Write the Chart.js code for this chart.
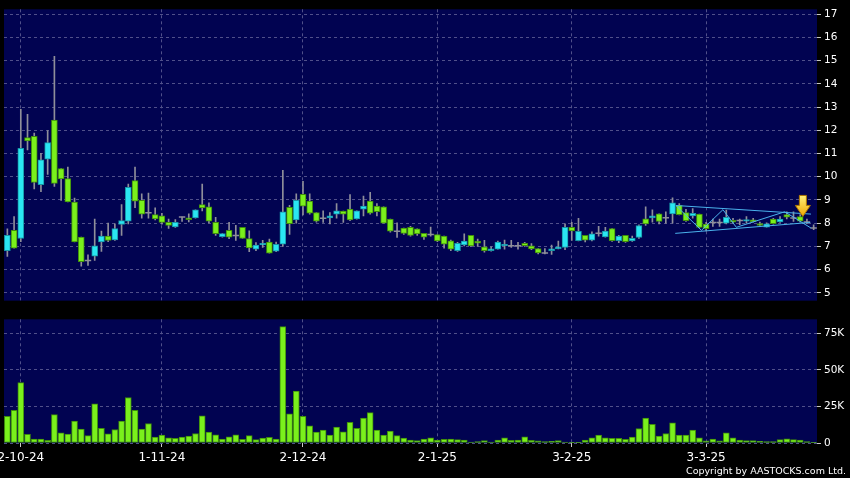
<!DOCTYPE html>
<html>
<head>
<meta charset="utf-8">
<script src="https://cdn.jsdelivr.net/npm/chart.js@4.4.1/dist/chart.umd.min.js"></script>
<style>
  html, body { margin: 0; padding: 0; background: #000; }
  #wrap { position: relative; width: 850px; height: 478px; overflow: hidden; background: #000; }
  #priceChart { position: absolute; left: 0; top: 0; }
  #volChart { position: absolute; left: 0; top: 310px; }
  #copy { position: absolute; right: 4px; top: 465px; color: #fff; font: 9.5px "DejaVu Sans", sans-serif; white-space: nowrap; }
</style>
</head>
<body>
<div id="wrap">
  <canvas id="priceChart" width="850" height="310"></canvas>
  <canvas id="volChart" width="850" height="168"></canvas>
  <div id="copy">Copyright by AASTOCKS.com Ltd.</div>
</div>
<script>
// daily OHLC, oldest first
const open = [
  6.81, 7.69, 7.34, 11.68, 11.74, 9.66, 10.76, 12.44, 10.35, 9.92,
  8.91, 7.40, 6.39, 6.58, 7.19, 7.44, 7.28, 7.94, 8.09, 9.83,
  8.98, 8.45, 8.37, 8.32, 8.03, 7.84, 8.26, 8.23, 8.23, 8.80,
  8.70, 8.04, 7.42, 7.69, 7.47, 7.82, 7.34, 6.88, 7.07, 7.19,
  6.79, 7.09, 8.68, 8.14, 9.24, 8.95, 8.45, 8.21, 8.22, 8.39,
  8.52, 8.61, 8.18, 8.60, 8.95, 8.74, 8.70, 8.18, 7.65, 7.79,
  7.82, 7.75, 7.56, 7.51, 7.51, 7.44, 7.24, 6.81, 7.06, 7.48,
  7.23, 6.98, 6.82, 6.88, 7.03, 7.03, 7.03, 7.13, 7.02, 6.91,
  6.71, 6.82, 6.89, 6.95, 7.82, 7.24, 7.48, 7.27, 7.56, 7.41,
  7.77, 7.24, 7.47, 7.23, 7.38, 8.19, 8.23, 8.40, 8.23, 8.40,
  8.77, 8.45, 8.31, 8.39, 7.96, 8.03, 8.03, 8.00, 8.12, 8.11,
  8.08, 8.14, 7.98, 7.83, 8.18, 8.05, 8.37, 8.22, 8.28, 8.05,
  7.79
];
const high = [
  7.75, 8.28, 12.90, 12.69, 11.88, 11.01, 11.99, 15.18, 10.35, 10.42,
  9.08, 7.40, 6.64, 8.17, 7.66, 8.00, 7.97, 8.80, 9.68, 10.42,
  9.26, 9.30, 8.66, 8.42, 8.18, 8.15, 8.26, 8.40, 8.57, 9.68,
  8.88, 8.25, 7.55, 8.04, 7.91, 7.82, 7.67, 7.16, 7.26, 7.31,
  7.19, 10.27, 8.77, 9.26, 9.80, 9.26, 8.45, 8.53, 8.45, 8.84,
  8.52, 9.23, 8.53, 9.17, 9.33, 8.84, 8.70, 8.18, 8.01, 7.79,
  7.86, 7.75, 7.56, 7.83, 7.51, 7.44, 7.27, 7.17, 7.54, 7.48,
  7.31, 7.26, 6.98, 7.23, 7.27, 7.26, 7.17, 7.17, 7.12, 6.91,
  6.91, 7.06, 7.23, 7.97, 8.03, 8.21, 7.48, 7.63, 7.86, 7.82,
  7.77, 7.48, 7.47, 7.44, 7.93, 8.70, 8.57, 8.40, 8.49, 9.09,
  8.84, 8.59, 8.63, 8.39, 8.04, 8.18, 8.18, 8.56, 8.21, 8.18,
  8.28, 8.21, 8.05, 8.01, 8.21, 8.28, 8.49, 8.49, 8.37, 8.18,
  7.93
];
const low = [
  6.57, 6.92, 7.20, 11.15, 9.47, 9.36, 10.10, 9.58, 8.98, 8.91,
  7.19, 6.15, 6.18, 6.39, 6.78, 7.20, 7.26, 7.47, 7.97, 8.67,
  8.21, 8.21, 8.14, 7.96, 7.77, 7.82, 8.07, 8.05, 8.21, 8.53,
  8.01, 7.47, 7.40, 7.33, 7.26, 7.34, 6.77, 6.82, 6.95, 6.71,
  6.77, 7.00, 7.51, 8.00, 8.35, 8.39, 8.04, 8.03, 7.97, 8.21,
  8.03, 8.11, 8.17, 8.31, 8.39, 8.31, 8.00, 7.61, 7.38, 7.51,
  7.44, 7.47, 7.30, 7.44, 7.20, 6.92, 6.81, 6.78, 7.02, 6.99,
  7.00, 6.75, 6.79, 6.88, 6.88, 6.95, 6.88, 7.00, 6.86, 6.67,
  6.67, 6.65, 6.89, 6.86, 7.26, 7.23, 7.19, 7.23, 7.44, 7.40,
  7.21, 7.16, 7.17, 7.21, 7.34, 7.90, 8.04, 7.97, 8.00, 8.00,
  8.35, 8.07, 8.21, 7.79, 7.67, 7.86, 7.86, 7.97, 8.00, 7.93,
  8.00, 8.04, 7.89, 7.83, 7.96, 8.03, 8.18, 8.07, 8.04, 7.98,
  7.72
];
const close = [
  7.48, 6.92, 11.22, 11.54, 9.75, 10.73, 11.47, 9.71, 9.90, 8.91,
  7.19, 6.34, 6.39, 7.02, 7.44, 7.26, 7.77, 8.11, 9.54, 8.95,
  8.39, 8.45, 8.18, 8.03, 7.90, 8.04, 8.26, 8.15, 8.57, 8.66,
  8.09, 7.55, 7.55, 7.40, 7.47, 7.34, 6.93, 7.06, 7.13, 6.71,
  7.09, 8.49, 7.98, 8.98, 8.73, 8.43, 8.09, 8.21, 8.32, 8.53,
  8.39, 8.14, 8.53, 8.74, 8.43, 8.49, 8.00, 7.65, 7.65, 7.56,
  7.47, 7.54, 7.40, 7.51, 7.23, 7.09, 6.88, 7.13, 7.23, 7.02,
  7.14, 6.81, 6.89, 7.19, 7.09, 7.03, 7.03, 7.03, 6.89, 6.72,
  6.71, 6.89, 6.98, 7.82, 7.66, 7.65, 7.27, 7.54, 7.56, 7.66,
  7.24, 7.44, 7.20, 7.35, 7.90, 7.97, 8.31, 8.07, 8.23, 8.87,
  8.37, 8.11, 8.42, 7.82, 7.76, 8.03, 8.03, 8.25, 8.04, 8.11,
  8.15, 8.05, 7.90, 7.97, 7.98, 8.18, 8.26, 8.22, 8.08, 8.05,
  7.79
];
// volume in thousands of shares
const volumeK = [
  18.2, 22.3, 41.2, 5.9, 2.7, 2.7, 1.8, 19.4, 7.0, 6.1,
  14.9, 9.5, 5.0, 26.8, 10.1, 6.3, 9.2, 14.9, 31.1, 22.3,
  9.5, 13.3, 4.1, 5.4, 3.6, 3.2, 4.1, 4.7, 6.5, 18.5,
  7.4, 5.6, 2.7, 4.3, 5.6, 2.5, 5.0, 2.3, 3.4, 3.8,
  2.7, 79.5, 20.0, 35.4, 18.2, 11.7, 7.4, 8.8, 5.4, 10.8,
  7.7, 14.2, 10.1, 17.1, 20.7, 8.8, 5.4, 8.1, 5.0, 3.4,
  2.0, 1.6, 2.7, 3.6, 2.0, 2.5, 2.7, 2.3, 2.0, 0.7,
  0.9, 1.6, 0.7, 2.0, 3.6, 1.8, 2.0, 4.3, 1.8, 1.4,
  0.9, 1.1, 1.6, 0.7, 0.5, 0.5, 2.0, 3.6, 5.4, 3.6,
  3.2, 3.2, 2.5, 4.1, 9.9, 17.1, 12.8, 4.7, 6.5, 13.7,
  5.4, 5.4, 8.8, 3.6, 1.4, 2.7, 1.4, 7.0, 3.6, 2.0,
  1.6, 1.6, 1.1, 0.9, 0.9, 2.3, 2.9, 2.3, 2.0, 0.9,
  0.5
];

const dateTickIndex = [2, 23, 44, 64, 84, 104];
const dateTickText = ['2-10-24', '1-11-24', '2-12-24', '2-1-25', '3-2-25', '3-3-25'];
const priceTicks = [5, 6, 7, 8, 9, 10, 11, 12, 13, 14, 15, 16, 17];
const volTicksK = [0, 25, 50, 75];

// drawn pattern lines (x = session index, y = price)
const upperTrend = [{x: 99.5, y: 8.76}, {x: 119.6, y: 8.39}];
const lowerTrend = [{x: 99.4, y: 7.56}, {x: 119.5, y: 8.03}];
const zigzag = [
  {x: 99.5, y: 8.76}, {x: 103.3, y: 7.69}, {x: 106.5, y: 8.58}, {x: 108.5, y: 7.82},
  {x: 115.7, y: 8.49}, {x: 119.6, y: 7.79}
];
const arrowTip = {x: 118.4, y: 8.29};

const sessions = open.map((_, i) => i);

const UP = '#2ae6f2', UP_EDGE = '#1796a6';
const DOWN = '#7af01c', DOWN_EDGE = '#3f8c0c';
const WICK = '#8f8f9a';
const GRID = '#50508a';
const PLOT_BG = '#010351';

const plotBg = {
  id: 'plotBg',
  beforeDraw(chart) {
    const {ctx, chartArea: a} = chart;
    ctx.save();
    ctx.fillStyle = PLOT_BG;
    ctx.fillRect(a.left, a.top, a.right - a.left, a.bottom - a.top);
    ctx.restore();
  }
};

const arrowMark = {
  id: 'arrowMark',
  afterDatasetsDraw(chart) {
    const ctx = chart.ctx;
    const x = chart.scales.xa.getPixelForValue(arrowTip.x);
    const y = chart.scales.y.getPixelForValue(arrowTip.y);
    ctx.save();
    const g = ctx.createLinearGradient(0, y - 21, 0, y);
    g.addColorStop(0, '#fff27a');
    g.addColorStop(1, '#f0a800');
    ctx.beginPath();
    ctx.moveTo(x - 3.5, y - 21);
    ctx.lineTo(x + 3.5, y - 21);
    ctx.lineTo(x + 3.5, y - 11);
    ctx.lineTo(x + 7.5, y - 11);
    ctx.lineTo(x, y);
    ctx.lineTo(x - 7.5, y - 11);
    ctx.lineTo(x - 3.5, y - 11);
    ctx.closePath();
    ctx.fillStyle = g;
    ctx.fill();
    ctx.strokeStyle = '#b07800';
    ctx.lineWidth = 1;
    ctx.stroke();
    ctx.restore();
  }
};

const candleColor = (i, up, down) => close[i] > open[i] ? up : down;

const noPad = s => { s.paddingLeft = 0; s.paddingRight = 0; };

const dateAxis = (showLabels) => ({
  type: 'category',
  offset: true,
  afterBuildTicks: s => { s.ticks = dateTickIndex.map(v => ({value: v})); },
  afterFit: s => { s.height = showLabels ? 22 : 0; noPad(s); },
  grid: {
    display: true,
    offset: false,
    color: GRID,
    drawTicks: showLabels,
    tickLength: 4,
    tickColor: '#c8c8c8',
    tickWidth: 1
  },
  border: { display: false, dash: [3, 3] },
  ticks: {
    display: showLabels,
    autoSkip: false,
    maxRotation: 0,
    padding: 4,
    color: '#ffffff',
    font: { family: 'DejaVu Sans', size: 12 },
    callback: (v, i) => dateTickText[i]
  }
});

// invisible session axis so the drawn lines can sit between sessions
const sessionAxis = {
  type: 'linear',
  position: 'bottom',
  offset: false,
  min: -0.5,
  max: open.length - 0.5,
  afterFit: s => { s.height = 0; noPad(s); },
  grid: { display: false, drawTicks: false, offset: false },
  border: { display: false },
  ticks: { display: false }
};

const rightAxis = (min, max, values, fmt) => ({
  position: 'right',
  min: min,
  max: max,
  afterBuildTicks: s => { s.ticks = values.map(v => ({value: v})); },
  afterFit: s => { s.width = 33; },
  grid: {
    color: GRID,
    drawTicks: true,
    tickLength: 4,
    tickColor: '#c8c8c8',
    tickWidth: 1
  },
  border: { display: false, dash: [3, 3] },
  ticks: {
    padding: 3,
    color: '#ffffff',
    font: { family: 'DejaVu Sans', size: 10.5 },
    callback: fmt
  }
});

new Chart(document.getElementById('priceChart'), {
  type: 'bar',
  data: {
    labels: sessions,
    datasets: [
      {
        type: 'line', xAxisID: 'xa', data: upperTrend, order: 0,
        borderColor: '#4ab2ec', borderWidth: 1, pointRadius: 0, tension: 0
      },
      {
        type: 'line', xAxisID: 'xa', data: lowerTrend, order: 0,
        borderColor: '#4ab2ec', borderWidth: 1, pointRadius: 0, tension: 0
      },
      {
        type: 'line', xAxisID: 'xa', data: zigzag, order: 0,
        borderColor: '#4ab2ec', borderWidth: 1, pointRadius: 0, tension: 0
      },
      {
        type: 'line', order: 1,
        data: open.map((o, i) => o === close[i] ? o : null),
        showLine: false,
        pointStyle: 'line',
        pointRadius: 3.2,
        pointBorderColor: WICK,
        pointBorderWidth: 1.5
      },
      {
        order: 2,
        data: open.map((o, i) => o === close[i] ? null : [o, close[i]]),
        grouped: false,
        barThickness: 6,
        borderWidth: 1,
        borderSkipped: false,
        backgroundColor: c => candleColor(c.dataIndex, UP, DOWN),
        borderColor: c => candleColor(c.dataIndex, UP_EDGE, DOWN_EDGE)
      },
      {
        order: 3,
        data: low.map((l, i) => [l, high[i]]),
        grouped: false,
        barThickness: 1,
        borderWidth: 0,
        backgroundColor: WICK
      }
    ]
  },
  options: {
    responsive: false,
    animation: false,
    layout: { autoPadding: false, padding: { left: 4, top: 6, right: 0, bottom: 5 } },
    plugins: { legend: { display: false }, tooltip: { enabled: false } },
    scales: {
      x: dateAxis(false),
      xa: sessionAxis,
      y: rightAxis(4.66, 17.21, priceTicks, v => v)
    }
  },
  plugins: [plotBg, arrowMark]
});

new Chart(document.getElementById('volChart'), {
  type: 'bar',
  data: {
    labels: sessions,
    datasets: [{
      data: volumeK,
      barThickness: 6,
      borderWidth: 1,
      borderSkipped: false,
      backgroundColor: DOWN,
      borderColor: DOWN_EDGE
    }]
  },
  options: {
    responsive: false,
    animation: false,
    layout: { autoPadding: false, padding: { left: 4, top: 8, right: 0, bottom: 13 } },
    plugins: { legend: { display: false }, tooltip: { enabled: false } },
    scales: {
      x: dateAxis(true),
      y: rightAxis(0, 84.5, volTicksK, v => v === 0 ? '0' : v + 'K')
    }
  },
  plugins: [plotBg]
});
</script>
</body>
</html>
